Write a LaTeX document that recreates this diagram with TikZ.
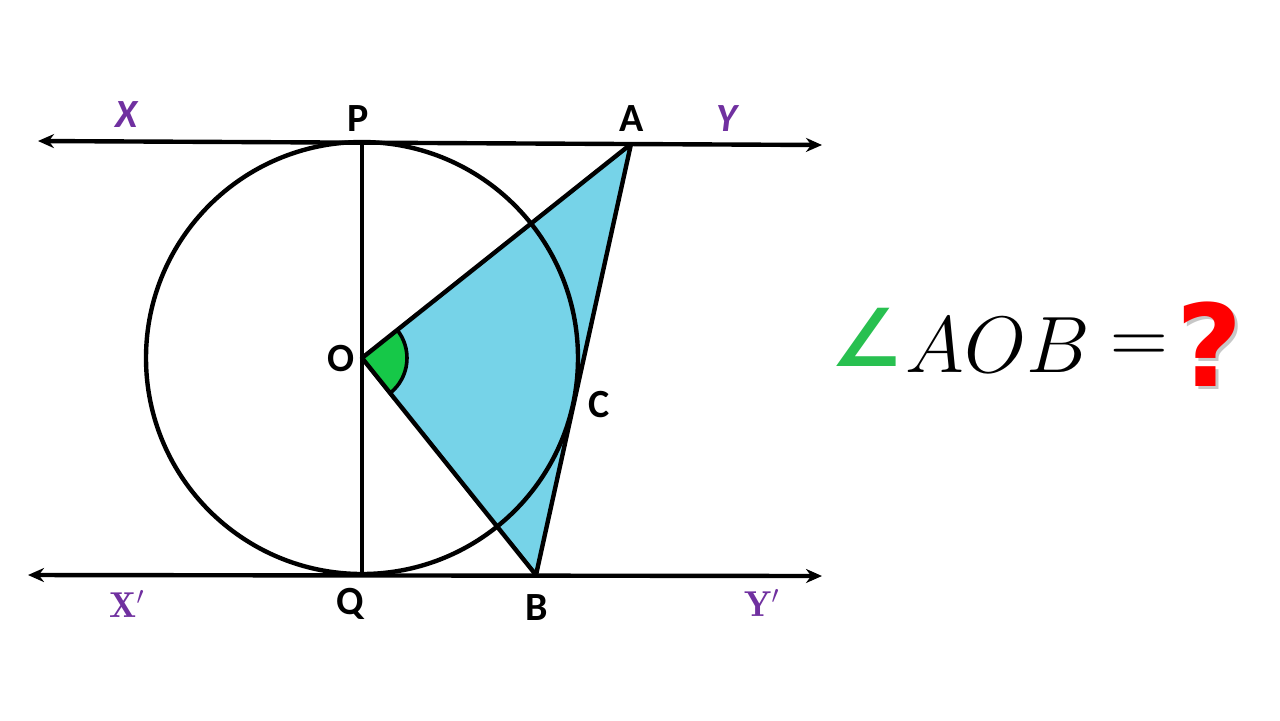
\RequirePackage{fix-cm}
\documentclass[tikz,border=0pt]{standalone}
\usepackage{fontspec}
\newfontfamily\lbl{Carlito}
\newfontfamily\dvs{DejaVu Sans}
\usetikzlibrary{arrows.meta,calc}
\definecolor{purp}{HTML}{7030A0}
\definecolor{skyfill}{RGB}{118,211,232}
\definecolor{angfill}{RGB}{22,200,72}
\definecolor{anggreen}{RGB}{40,192,80}
\begin{document}
\begin{tikzpicture}[x=0.5pt,y=-0.5pt,
  geo/.style={line width=2.2pt, black},
  >={Stealth[length=8pt,width=7pt]},
  ptlabel/.style={font=\lbl\bfseries\fontsize{20}{24}\selectfont, inner sep=0pt},
  linelabel/.style={font=\lbl\bfseries\itshape\fontsize{20}{24}\selectfont, text=purp, inner sep=0pt},
  primelabel/.style={font=\bfseries\fontsize{18}{22}\selectfont, text=purp, inner sep=0pt},
  qmark/.style={font=\dvs\bfseries\fontsize{57}{62}\selectfont, inner sep=0pt}]
\useasboundingbox (0,0) rectangle (1280,720);
\fill[white] (0,0) rectangle (1280,720);
% points
\coordinate (O) at (362,358);
\coordinate (A) at (631,144);
\coordinate (B) at (536,575);
\coordinate (P) at (362,142);
\coordinate (Q) at (362,575);
\coordinate (C) at (574,405);
\coordinate (XL) at (38,141);
\coordinate (YR) at (822,145);
\coordinate (XpL) at (28,575);
\coordinate (YpR) at (822,576);
% triangle fill
\fill[skyfill] (O) -- (A) -- (B) -- cycle;
% green angle
\begin{scope}
  \clip (O) -- (A) -- (B) -- cycle;
  \fill[angfill] (O) circle[radius=22.5pt];
  \draw[line width=1.8pt] (O) circle[radius=22.5pt];
\end{scope}
% circle and diameter
\draw[geo] (O) circle[radius=108pt];
\draw[geo] (P) -- (Q);
% triangle outline
\draw[geo, line join=round] (O) -- (A) -- (B) -- cycle;
% tangent lines
\draw[geo, <->] (XL) -- (YR);
\draw[geo, <->] (XpL) -- (YpR);
% labels
\node[linelabel] (lX) at (127,115) {X};
\node[ptlabel] (lP) at (358,119) {P};
\node[ptlabel] (lA) at (632,119) {A};
\node[linelabel] (lY) at (727,119) {Y};
\node[ptlabel] (lO) at (341,359) {O};
\node[ptlabel] (lC) at (599,405) {C};
\node[primelabel] (lXp) at (127,604) {$\mathbf{X'}$};
\node[ptlabel] (lQ) at (350,604) {Q};
\node[ptlabel] (lB) at (537,608) {B};
\node[primelabel] (lYp) at (762,603) {$\mathbf{Y'}$};
% formula
\node[font=\dvs\bfseries\fontsize{40}{44}\selectfont, text=anggreen, inner sep=0pt, anchor=base] (ang) at (866,366) {∠};
\node[font=\fontsize{40}{48}\selectfont, inner sep=0pt, anchor=base west] (aob) at (905,372) {$AOB$};
\node[font=\fontsize{40}{48}\selectfont, inner sep=0pt] (eq) at (1139,349) {$=$};
\node[qmark, text=black!22, anchor=base] (qs) at (1213,389) {?};
\node[qmark, text=red, anchor=base] (q) at (1210,386) {?};
\end{tikzpicture}
\end{document}
